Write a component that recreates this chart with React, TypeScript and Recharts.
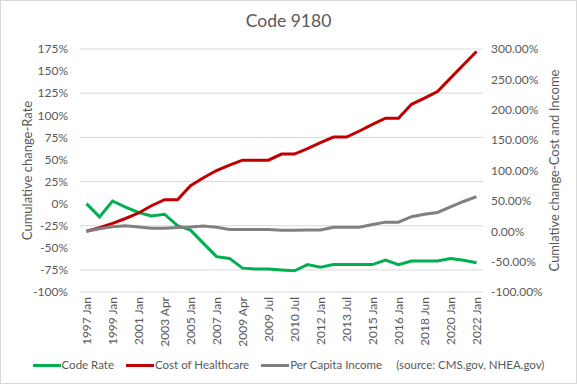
import React from 'react';
import {
  LineChart,
  Line,
  XAxis,
  YAxis,
  CartesianGrid,
  Legend,
  Label
} from 'recharts';

// category labels (only every other one is shown on the axis)
const periods = [
  '1997 Jan', '1998 Jan', '1999 Jan', '2000 Jan', '2001 Jan', '2002 Jan',
  '2003 Apr', '2004 Jan', '2005 Jan', '2006 Jan', '2007 Jan', '2008 Jan',
  '2009 Apr', '2009 Jun', '2009 Jul', '2010 Jan', '2010 Jul', '2011 Jan',
  '2012 Jan', '2013 Jan', '2013 Jul', '2014 Jan', '2015 Jan', '2015 Jul',
  '2016 Jan', '2017 Jan', '2018 Jun', '2019 Jan', '2020 Jan', '2021 Jan',
  '2022 Jan'
];

// cumulative change, % (left axis)
const codeRate = [
  0, -15, 3, -4, -10, -14, -12, -25, -30, -45, -60, -62, -73, -74, -74, -75,
  -76, -69, -72, -69, -69, -69, -69, -64, -69, -65, -65, -65, -62, -64, -67
];

// cumulative change, % (right axis)
const healthcareCost = [
  0, 6, 13, 21, 30, 42, 52, 52, 75, 88, 100, 109, 117, 117, 117, 127,
  127, 136, 146, 155, 155, 165, 176, 186, 186, 209, 219, 230, 252, 274, 296
];

const perCapitaIncome = [
  0, 4, 7.5, 9, 7, 5, 5, 6, 7, 8.5, 6.5, 3, 3, 3, 3, 1.5,
  1.5, 2, 2, 6.5, 6.5, 6.5, 11, 15, 15, 24, 28, 31, 40, 49, 57
];

const leftTicks = [-100, -75, -50, -25, 0, 25, 50, 75, 100, 125, 150, 175];
const rightTicks = [-100, -50, 0, 50, 100, 150, 200, 250, 300];

const seriesInfo = [
  { key: 'rate', name: 'Code Rate', color: '#00B050' },
  { key: 'cost', name: 'Cost of Healthcare', color: '#C00000' },
  { key: 'income', name: 'Per Capita Income', color: '#808080' }
];

const data = periods.map((period, i) => ({
  period,
  rate: codeRate[i],
  cost: healthcareCost[i],
  income: perCapitaIncome[i]
}));

const textColor = '#595959';
const font = 'Lato, "Open Sans", sans-serif';

const XTick = ({ x, y, payload }: any) => (
  <text
    x={x}
    y={y}
    dy="0.35em"
    transform={`rotate(-90, ${x}, ${y})`}
    textAnchor="end"
    fill={textColor}
    fontSize={12}
    fontFamily={font}
  >
    {payload.value}
  </text>
);

const renderLegend = () => (
  <div
    style={{
      height: 30,
      display: 'flex',
      justifyContent: 'center',
      alignItems: 'flex-start',
      paddingTop: 3,
      boxSizing: 'border-box',
      fontFamily: font,
      fontSize: 11.5,
      color: textColor
    }}
  >
    {seriesInfo.map((s) => (
      <div key={s.key} style={{ display: 'flex', alignItems: 'center', marginRight: 12, lineHeight: '16px' }}>
        <span style={{ display: 'inline-block', width: 28, height: 3, background: s.color, marginRight: 1 }} />
        <span>{s.name}</span>
      </div>
    ))}
    <div style={{ lineHeight: '16px', marginLeft: 2 }}>(source: CMS.gov, NHEA.gov)</div>
  </div>
);

export default function App() {
  return (
    <div
      style={{
        position: 'absolute',
        left: 0,
        top: 0,
        width: 577,
        height: 384,
        background: '#fff',
        fontFamily: font
      }}
    >
      <div
        style={{
          position: 'absolute',
          top: 10,
          left: 0,
          width: 577,
          textAlign: 'center',
          fontSize: 17.5,
          lineHeight: '22px',
          color: textColor
        }}
      >
        Code 9180
      </div>
      <LineChart
        width={577}
        height={384}
        data={data}
        margin={{ top: 49, right: 0, bottom: 0, left: 0 }}
      >
        <CartesianGrid yAxisId="left" vertical={false} stroke="#D9D9D9" />
        <XAxis
          dataKey="period"
          interval={1}
          height={62}
          axisLine={false}
          tickLine={false}
          tickSize={0}
          tickMargin={5}
          padding={{ left: 6.5, right: 6.5 }}
          tick={<XTick />}
        />
        <YAxis
          yAxisId="left"
          width={80}
          domain={[-100, 175]}
          ticks={leftTicks}
          allowDataOverflow
          axisLine={false}
          tickLine={false}
          tickSize={0}
          tickMargin={12}
          tick={{ fill: textColor, fontSize: 12, fontFamily: font }}
          tickFormatter={(v: number) => `${v}%`}
        >
          <Label
            value="Cumulative change-Rate"
            angle={-90}
            position="center"
            dx={-13}
            fill={textColor}
            fontSize={13}
            fontFamily={font}
          />
        </YAxis>
        <YAxis
          yAxisId="right"
          orientation="right"
          width={94}
          domain={[-100, 300]}
          ticks={rightTicks}
          allowDataOverflow
          axisLine={false}
          tickLine={false}
          tickSize={0}
          tickMargin={8}
          tick={{ fill: textColor, fontSize: 12, fontFamily: font }}
          tickFormatter={(v: number) => `${v.toFixed(2)}%`}
        >
          <Label
            value="Cumlative change-Cost and Income"
            angle={-90}
            position="center"
            dx={24}
            fill={textColor}
            fontSize={13}
            fontFamily={font}
          />
        </YAxis>
        <Legend verticalAlign="bottom" content={renderLegend} />
        <Line
          yAxisId="left"
          dataKey="rate"
          name="Code Rate"
          stroke="#00B050"
          strokeWidth={3}
          dot={false}
          isAnimationActive={false}
        />
        <Line
          yAxisId="right"
          dataKey="cost"
          name="Cost of Healthcare"
          stroke="#C00000"
          strokeWidth={3}
          dot={false}
          isAnimationActive={false}
        />
        <Line
          yAxisId="right"
          dataKey="income"
          name="Per Capita Income"
          stroke="#808080"
          strokeWidth={3}
          dot={false}
          isAnimationActive={false}
        />
      </LineChart>
      <div
        style={{
          position: 'absolute',
          inset: 0,
          border: '1px solid #D9D9D9',
          pointerEvents: 'none'
        }}
      />
    </div>
  );
}
